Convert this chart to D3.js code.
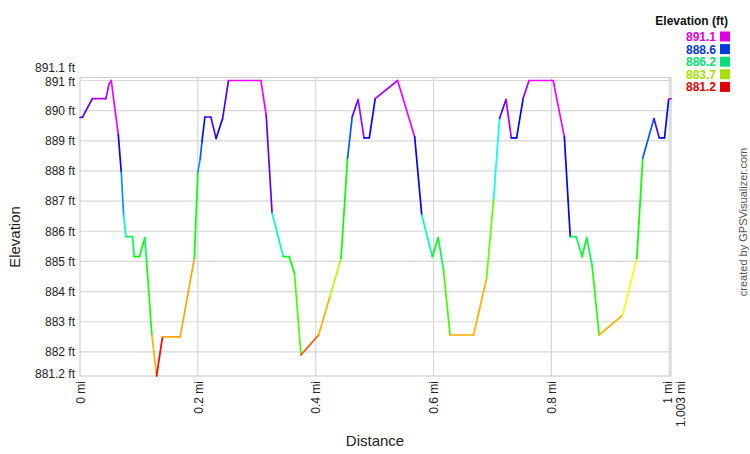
<!DOCTYPE html>
<html><head><meta charset="utf-8">
<script src="https://cdn.jsdelivr.net/npm/d3@7"></script>
<style>
body{margin:0;background:#fff;}
text{font-family:"Liberation Sans",Arial,sans-serif;}
</style></head>
<body><svg id="c" width="750" height="454"></svg>
<script>
const distance = [0.000,0.004,0.021,0.044,0.049,0.053,0.065,0.070,0.074,0.078,0.089,0.092,0.101,0.110,0.113,0.122,0.130,0.140,0.170,0.194,0.200,0.204,0.207,0.212,0.222,0.231,0.242,0.252,0.307,0.316,0.326,0.345,0.355,0.364,0.375,0.405,0.424,0.443,0.454,0.462,0.472,0.482,0.491,0.501,0.539,0.568,0.580,0.598,0.608,0.617,0.628,0.668,0.690,0.702,0.712,0.723,0.732,0.741,0.752,0.762,0.803,0.822,0.832,0.842,0.852,0.860,0.869,0.881,0.921,0.945,0.955,0.974,0.983,0.992,0.999,1.003];
const elevation = [889.78,889.78,890.4,890.4,890.87,891.0,889.2,887.97,886.54,885.82,885.82,885.16,885.16,885.79,885.0,882.56,881.2,882.5,882.5,885.1,887.97,888.4,888.97,889.79,889.79,889.08,889.74,891.0,891.0,889.85,886.6,885.16,885.16,884.6,881.9,882.56,883.83,885.1,888.42,889.8,890.37,889.1,889.1,890.4,891.0,889.13,886.54,885.16,885.79,884.7,882.56,882.56,884.44,887.09,889.74,890.37,889.1,889.1,890.4,891.0,891.0,889.13,885.82,885.82,885.16,885.79,884.88,882.56,883.22,885.1,888.42,889.74,889.1,889.1,890.37,890.4];
const yTicks = [881.2,882,883,884,885,886,887,888,889,890,891,891.1];
const xTicks = [0,0.2,0.4,0.6,0.8,1,1.003];
const legendValues = [891.1,888.6,886.2,883.7,881.2];

const svg = d3.select("#c");
const L=80,R=671,T=77.5,B=376;
const x = d3.scaleLinear().domain([0,1.003]).range([L,R]);
const y = d3.scaleLinear().domain([881.2,891.1]).range([B,T]);
const hue = d3.scaleLinear().domain([881.2,891.1]).range([0,300]);
const col = v => d3.hsl(hue(v),1,0.5).formatHex();
const colDark = v => d3.hsl(hue(v),1,0.44).formatHex();

// gridlines
svg.append("g").selectAll("line").data(yTicks.filter(d=>d!==881.2&&d!==891.1)).join("line")
  .attr("x1",L).attr("x2",R).attr("y1",d=>y(d)).attr("y2",d=>y(d))
  .attr("stroke","#d6d6d6").attr("stroke-width",1.2);
svg.append("g").selectAll("line").data(xTicks.filter(d=>d>0&&d<1.003)).join("line")
  .attr("y1",T).attr("y2",B).attr("x1",d=>x(d)).attr("x2",d=>x(d))
  .attr("stroke","#d6d6d6").attr("stroke-width",1.2);
svg.append("rect").attr("x",L).attr("y",T).attr("width",R-L).attr("height",B-T)
  .attr("fill","none").attr("stroke","#cfcfcf").attr("stroke-width",1.2);

// y axis labels
const yAxis = d3.axisLeft(y).tickValues(yTicks).tickSize(0).tickPadding(5)
  .tickFormat(d=>d+" ft");
const gy = svg.append("g").attr("transform",`translate(${L},0)`).call(yAxis);
gy.select(".domain").remove();
gy.selectAll("text").attr("font-size",12).attr("fill","#222")
  .attr("font-family","Liberation Sans, Arial, sans-serif")
  .attr("dy",d=>d===891.1?"-0.5em":d===891?"0.4em":d===881.2?"0.15em":"0.32em");

// x axis labels
const xAxis = d3.axisBottom(x).tickValues(xTicks).tickSize(0).tickPadding(0)
  .tickFormat(d=>d+" mi");
const gx = svg.append("g").attr("transform",`translate(0,${B})`).call(xAxis);
gx.select(".domain").remove();
gx.selectAll("text").attr("font-size",12).attr("fill","#222")
  .attr("font-family","Liberation Sans, Arial, sans-serif")
  .attr("text-anchor","end")
  .attr("transform",d=>`translate(${d===1?-2:d===1.003?9:0},5) rotate(-90)`)
  .attr("x",0).attr("y",0).attr("dy","0.35em");

// colored line segments
const pts = distance.map((d,i)=>({d,e:elevation[i]}));
const segs = d3.pairs(pts);
svg.append("g").selectAll("line").data(segs).join("line")
  .attr("x1",p=>x(p[0].d)).attr("y1",p=>y(p[0].e))
  .attr("x2",p=>x(p[1].d)).attr("y2",p=>y(p[1].e))
  .attr("stroke",p=>col(p[0].e)).attr("stroke-width",1.7).attr("stroke-linecap","round");

// titles
svg.append("text").attr("transform","translate(20,237) rotate(-90)").attr("text-anchor","middle")
  .attr("font-size",15).attr("fill","#222").text("Elevation");
svg.append("text").attr("x",375).attr("y",446).attr("text-anchor","middle")
  .attr("font-size",15).attr("fill","#222").text("Distance");
svg.append("text").attr("transform","translate(747,222) rotate(-90)").attr("text-anchor","middle")
  .attr("font-size",11).attr("fill","#555").text("created by GPSVisualizer.com");

// legend
svg.append("text").attr("x",728).attr("y",25).attr("text-anchor","end")
  .attr("font-size",12).attr("font-weight","bold").attr("fill","#111").text("Elevation (ft)");
const lg = svg.append("g").selectAll("g").data(legendValues).join("g")
  .attr("transform",(d,i)=>`translate(0,${41+i*12.6})`);
lg.append("text").attr("x",716).attr("y",0).attr("text-anchor","end")
  .attr("font-size",12).attr("font-weight","bold").attr("fill",d=>colDark(d)).text(d=>d.toFixed(1));
lg.append("rect").attr("x",720).attr("y",-9.5).attr("width",10).attr("height",10)
  .attr("fill",d=>colDark(d));
</script></body></html>
